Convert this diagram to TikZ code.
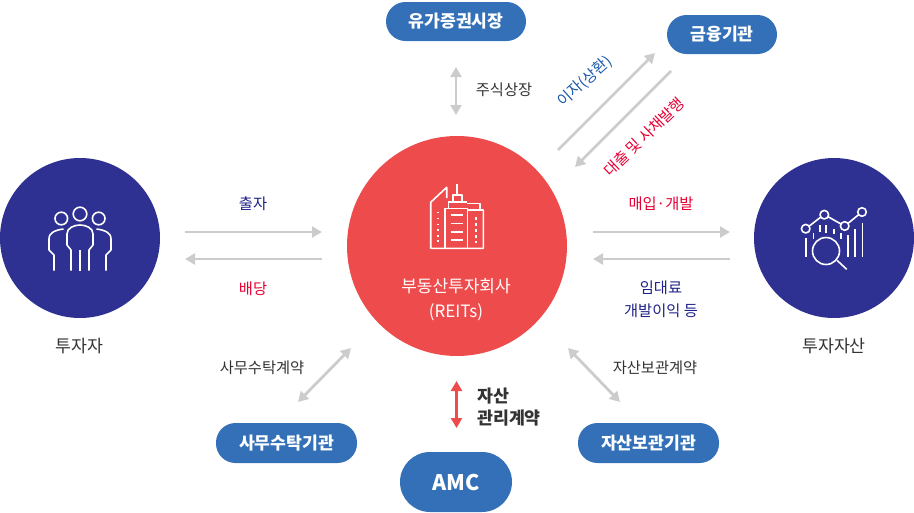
\documentclass[tikz,border=0pt]{standalone}
\usepackage{fontspec}
\setmainfont{Noto Sans CJK KR}
\usetikzlibrary{arrows.meta}
\definecolor{navy}{HTML}{2E3192}
\definecolor{coral}{HTML}{EE4B4C}
\definecolor{pillblue}{HTML}{3370B7}
\definecolor{arrowgrey}{HTML}{CCCCCC}
\definecolor{txtnavy}{HTML}{1D2088}
\definecolor{txtred}{HTML}{E60033}
\definecolor{txtblue}{HTML}{1A5AAB}
\definecolor{txtdark}{HTML}{333333}
\tikzset{every node/.style={inner sep=0pt,text=txtdark,font=\fontsize{15.3}{17}\selectfont}}
\tikzset{disc/.style={circle,fill=navy,minimum size=160pt}}
\tikzset{pill/.style={rectangle,rounded corners=19.5pt,fill=pillblue,text=white,font=\fontsize{17.2}{20}\bfseries}}
\tikzset{flow/.style={draw=arrowgrey,line width=2.8pt,-{Triangle[length=10pt,width=11pt]}}}
\tikzset{both/.style={draw=arrowgrey,line width=2.8pt,{Triangle[length=10pt,width=11pt]}-{Triangle[length=10pt,width=11pt]}}}
\tikzset{icon/.style={draw=white,line width=1.6pt,line join=round}}
\tikzset{big/.style={font=\fontsize{17.3}{19}\selectfont}}

\begin{document}
\begin{tikzpicture}[x=1pt,y=-1pt]
      \useasboundingbox (0,0) rectangle (914,512);
      \node[disc] (investor) at (80,238) {};
      \node[disc] (asset) at (834,238) {};
      \node[circle,fill=coral,minimum size=220pt] (reits) at (457,246) {};
      \node[pill,minimum width=140pt,minimum height=39pt] (market) at (456,21.5) {유가증권시장};
      \node[pill,minimum width=110pt,minimum height=39pt] (bank) at (722,34.5) {금융기관};
      \node[pill,minimum width=141pt,minimum height=40pt] (admin) at (286.5,443) {사무수탁기관};
      \node[pill,minimum width=141pt,minimum height=40pt] (custody) at (648.5,443) {자산보관기관};
      \node[pill,minimum width=112pt,minimum height=60pt,rounded corners=30pt,font=\fontsize{21.5}{24}\bfseries] (amc) at (456,482) {AMC};
      \node[big] (investorname) at (79.5,346) {투자자};
      \node[big] (assetname) at (834,346) {투자자산};
      \node[big,text=white,font=\fontsize{17}{19}\selectfont] (reitsname) at (456,286) {부동산투자회사};
      \node[big,text=white,font=\fontsize{17}{19}\selectfont] (reitsen) at (456,312.5) {(REITs)};
      \node (listing) at (504,90) {주식상장};
      \node[text=txtblue,rotate=42] (interest) at (585,81.5) {이자(상환)};
      \node[text=txtred,rotate=44] (loan) at (644,137) {대출 및 사채발행};
      \node[text=txtnavy] (fund) at (253,204) {출자};
      \node[text=txtred] (divid) at (253,289) {배당};
      \node[text=txtred] (buy) at (661,204) {매입·개발};
      \node[text=txtnavy] (rent) at (661,288) {임대료};
      \node[text=txtnavy] (gain) at (661,311) {개발이익 등};
      \node (admincontract) at (262,368) {사무수탁계약};
      \node (custodycontract) at (655,368) {자산보관계약};
      \node[anchor=west,font=\fontsize{17.3}{19}\bfseries] (amc1) at (477,396.5) {자산};
      \node[anchor=west,font=\fontsize{17.3}{19}\bfseries] (amc2) at (477,418.5) {관리계약};
      \coordinate (listA) at (456,67);
      \coordinate (listB) at (456,115);
      \coordinate (intA) at (558,150);
      \coordinate (intB) at (655,53);
      \coordinate (loanA) at (671,71);
      \coordinate (loanB) at (575,167);
      \coordinate (fundA) at (185,232);
      \coordinate (fundB) at (322,232);
      \coordinate (dividA) at (322,259);
      \coordinate (dividB) at (185,259);
      \coordinate (buyA) at (593,232);
      \coordinate (buyB) at (730,232);
      \coordinate (rentA) at (730,259);
      \coordinate (rentB) at (593,259);
      \coordinate (adminA) at (351,348);
      \coordinate (adminB) at (298,402);
      \coordinate (custA) at (568,348);
      \coordinate (custB) at (620,402);
      \coordinate (amcA) at (456.5,381);
      \coordinate (amcB) at (456.5,428);
        \draw[both] (listA) -- (listB);
        \draw[flow] (intA) -- (intB);
        \draw[flow] (loanA) -- (loanB);
        \draw[flow] (fundA) -- (fundB);
        \draw[flow] (dividA) -- (dividB);
        \draw[flow] (buyA) -- (buyB);
        \draw[flow] (rentA) -- (rentB);
        \draw[both] (adminA) -- (adminB);
        \draw[both] (custA) -- (custB);
        \draw[both,draw=coral,line width=3pt] (amcA) -- (amcB);
        \draw[icon] (80,214) circle (6.8);
        \draw[icon] (61.3,218.5) circle (6.3);
        \draw[icon] (98.7,218.5) circle (6.3);
        \draw[icon] (71,270.7) -- (71,250) -- (67,245) -- (67,234) .. controls (67,228) and (74,225) .. (80,225) .. controls (86,225) and (93,228) .. (93,234) -- (93,245) -- (89,250) -- (89,270.7);
        \draw[icon] (80,250) -- (80,270.7);
        \draw[icon] (63.5,229) .. controls (56,230) and (49,232) .. (49,239) -- (49,250) -- (54,255) -- (54,270.7);
        \draw[icon] (96.5,229) .. controls (104,230) and (111,232) .. (111,239) -- (111,250) -- (106,255) -- (106,270.7);
        \draw[icon] (809.3,226) -- (820.6,217.2);
        \draw[icon] (828,216.7) -- (841,224);
        \draw[icon] (848.2,223.2) -- (858.5,214.8);
        \foreach \px/\py in {805.7/228.7,824.3/214.7,844.7/226,862/212}
          \draw[icon] (\px,\py) circle (4.3);
        \foreach \bx/\btop/\bbot in {806/238/257,813.3/233.3/239,819.7/225/231.7,826/225/233,834/229/234,841/233/239,847.7/235/257,855/229/257,862.3/222.7/257}
          \draw[icon] (\bx,\btop) -- (\bx,\bbot);
        \draw[icon] (826,251) circle (13.5);
        \draw[icon] (837.2,260.5) -- (846.7,269.3);
        \draw[icon] (446.7,198) -- (446.7,187.3) -- (430.7,202.3) -- (430.7,248.3) -- (483.3,248.3) -- (483.3,210) -- (468,210);
        \draw[icon] (445,248.3) -- (445,208.3) -- (467.3,208.3) -- (467.3,248.3);
        \draw[icon] (448.3,208.3) -- (448.3,201.7) -- (467,201.7);
        \draw[icon] (467,203.3) -- (480,203.3) -- (480,210);
        \draw[icon] (452.7,201.7) -- (452.7,195) -- (461.7,195) -- (461.7,201.7);
        \draw[icon] (457,195) -- (457,184);
        \foreach \wy in {215,223.3,231.7,240}
          \draw[icon] (450.7,\wy) -- (463.3,\wy);
        \foreach \wy in {212.3,218.3,224.3,230,235.7,241}
          \draw[icon] (436.5,\wy) -- (438.9,\wy);
        \draw[icon,dash pattern=on 3.6pt off 2.4pt] (476,216.5) -- (476,243);
    \end{tikzpicture}
\end{document}
